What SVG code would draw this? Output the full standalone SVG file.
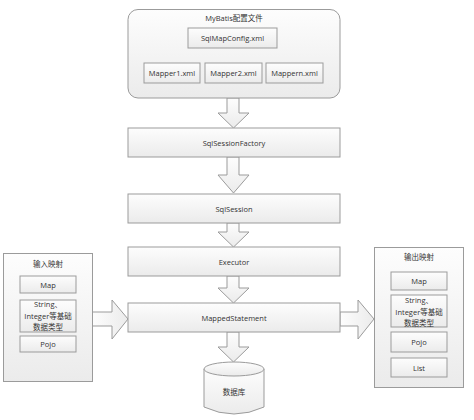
<svg xmlns="http://www.w3.org/2000/svg" width="474" height="420" viewBox="0 0 474 420">
<defs>
<linearGradient id="g" x1="0" y1="0" x2="0" y2="1"><stop offset="0" stop-color="#fdfdfd"/><stop offset="1" stop-color="#ebebeb"/></linearGradient>
<linearGradient id="gh" x1="0" y1="0" x2="1" y2="0"><stop offset="0" stop-color="#fdfdfd"/><stop offset="1" stop-color="#ebebeb"/></linearGradient>
<style>
.b{fill:url(#g);stroke:#9b9b9b;stroke-width:1}
.a{fill:url(#g);stroke:#9b9b9b;stroke-width:1}
.ah{fill:url(#gh);stroke:#9b9b9b;stroke-width:1}
text{font-family:"Open Sans","Liberation Sans","Noto Sans CJK SC",sans-serif;font-size:7.5px;fill:#333;text-anchor:middle;dominant-baseline:central}
</style>
</defs>
<rect width="474" height="420" fill="#fff"/>
<g id="connectors">
<polygon class="a" points="227,98 239,98 239,113 249,113 233.5,128 218,113 227,113"/>
<polygon class="a" points="227,157 239,157 239,175 249,175 233.5,193 218,175 227,175"/>
<polygon class="a" points="227,223 239,223 239,232 249,232 233.5,247 218,232 227,232"/>
<polygon class="a" points="227,276 239,276 239,288 249,288 233.5,303 218,288 227,288"/>
<polygon class="a" points="227,332 239,332 239,347 249,347 233.5,362 218,347 227,347"/>
<polygon class="ah" points="92,312 112,312 112,300 128,319 112,339 112,326 92,326"/>
<polygon class="ah" points="340,312 358,312 358,300 374,319 358,339 358,326 340,326"/>
</g>
<g id="config">
<rect class="b" x="128" y="9.5" width="212" height="88.5" rx="10"/>
<text x="234" y="18">MyBatis配置文件</text>
</g>
<g id="sqlmapconfig"><rect class="b" x="188" y="28" width="89" height="20"/><text x="232.5" y="38">SqlMapConfig.xml</text></g>
<g id="mapper1"><rect class="b" x="144" y="63" width="56" height="20"/><text x="172" y="73">Mapper1.xml</text></g>
<g id="mapper2"><rect class="b" x="205" y="63" width="57" height="20"/><text x="233.5" y="73">Mapper2.xml</text></g>
<g id="mappern"><rect class="b" x="266" y="63" width="57" height="20"/><text x="294.5" y="73">Mappern.xml</text></g>
<g id="sqlsessionfactory"><rect class="b" x="128" y="128" width="212" height="29"/><text x="234" y="142.5">SqlSessionFactory</text></g>
<g id="sqlsession"><rect class="b" x="128" y="194" width="212" height="29"/><text x="234" y="208.5">SqlSession</text></g>
<g id="executor"><rect class="b" x="128" y="247" width="212" height="29"/><text x="234" y="261.5">Executor</text></g>
<g id="mappedstatement"><rect class="b" x="128" y="303" width="212" height="29"/><text x="234" y="317.5">MappedStatement</text></g>
<g id="database">
<path class="b" d="M204,369 L204,407 Q234,421 264,407 L264,369"/>
<ellipse class="b" cx="234" cy="369" rx="30" ry="7"/>
<text x="234" y="392">数据库</text>
</g>
<g id="input">
<rect class="b" x="3.5" y="253.5" width="89" height="128"/>
<text x="48" y="264">输入映射</text>
</g>
<g id="in-map"><rect class="b" x="20" y="276" width="56" height="17"/><text x="48" y="284.5">Map</text></g>
<g id="in-string"><rect class="b" x="20" y="300" width="56" height="32"/><text x="48" y="304">String、</text><text x="48" y="315.5">Integer等基础</text><text x="48" y="327">数据类型</text></g>
<g id="in-pojo"><rect class="b" x="20" y="336" width="56" height="16"/><text x="48" y="344">Pojo</text></g>
<g id="output">
<rect class="b" x="374.5" y="247.5" width="89" height="140"/>
<text x="419" y="257">输出映射</text>
</g>
<g id="out-map"><rect class="b" x="391" y="272" width="56" height="18"/><text x="419" y="281">Map</text></g>
<g id="out-string"><rect class="b" x="391" y="295" width="56" height="32"/><text x="419" y="300">String、</text><text x="419" y="311.5">Integer等基础</text><text x="419" y="322.5">数据类型</text></g>
<g id="out-pojo"><rect class="b" x="391" y="332" width="56" height="20"/><text x="419" y="342">Pojo</text></g>
<g id="out-list"><rect class="b" x="391" y="358" width="56" height="19"/><text x="419" y="367.5">List</text></g>
</svg>
